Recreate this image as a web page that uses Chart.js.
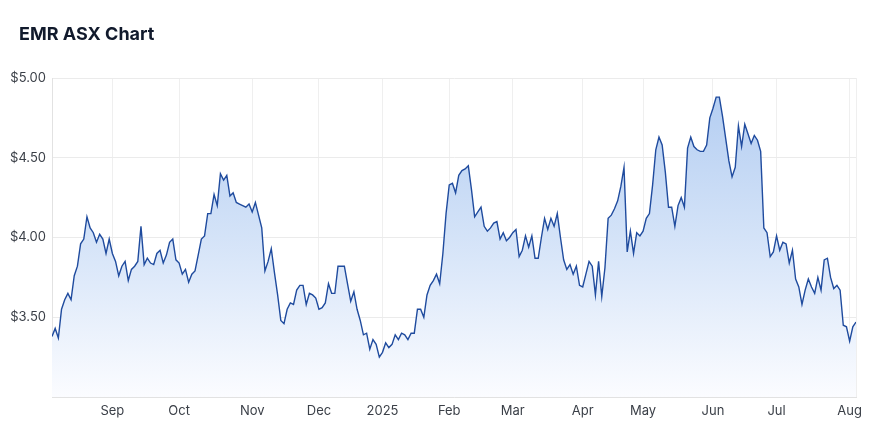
<!DOCTYPE html>
<html><head><meta charset="utf-8">
<script src="https://cdn.jsdelivr.net/npm/chart.js@4.4.1/dist/chart.umd.min.js"></script>
<style>
html,body{margin:0;padding:0;background:#fff;}
#wrap{position:relative;width:880px;height:425px;}
#title{position:absolute;left:19px;top:23px;font:700 18px Inter, sans-serif;color:#111a2c;}
canvas{position:absolute;left:0;top:0;}
</style></head><body>
<div id="wrap"><canvas id="c" width="880" height="425"></canvas><div id="title">EMR ASX Chart</div></div>
<script>
const prices = [
3.38,3.43,3.37,3.55,3.61,3.65,3.61,3.76,3.82,3.96,3.99,4.13,4.06,4.03,3.97,4.02,3.99,3.90,3.99,3.90,3.85,3.76,3.82,3.85,3.73,3.80,3.82,3.85,4.07,3.83,3.87,3.84,3.83,3.90,3.92,3.84,3.89,3.97,3.99,3.86,3.84,3.77,
3.80,3.72,3.77,3.79,3.89,3.99,4.01,4.15,4.15,4.27,4.20,4.40,4.36,4.39,4.26,4.28,4.22,4.21,4.20,4.19,4.21,4.16,4.22,4.14,4.06,3.79,3.85,3.93,3.78,3.64,3.48,3.46,3.55,3.59,3.58,3.67,3.70,3.70,3.58,3.65,3.64,3.62,3.55,
3.56,3.59,3.71,3.65,3.65,3.82,3.82,3.82,3.71,3.60,3.66,3.55,3.48,3.39,3.40,3.30,3.36,3.33,3.25,3.28,3.34,3.31,3.33,3.39,3.36,3.40,3.39,3.36,3.40,3.40,3.55,3.55,3.50,3.64,3.70,3.73,3.77,3.71,3.90,4.15,4.33,4.34,4.28,
4.39,4.42,4.43,4.45,4.30,4.13,4.16,4.19,4.07,4.04,4.06,4.09,4.10,3.99,4.03,3.98,4.00,4.03,4.05,3.88,3.92,4.01,3.94,4.01,3.87,3.87,4.00,4.12,4.05,4.12,4.07,4.15,4.00,3.86,3.80,3.83,3.77,3.82,3.70,3.69,3.77,3.85,
3.82,3.64,3.85,3.63,3.81,4.12,4.14,4.18,4.23,4.32,4.44,3.91,4.04,3.90,4.03,4.01,4.04,4.12,4.15,4.33,4.55,4.63,4.58,4.41,4.19,4.19,4.07,4.20,4.25,4.19,4.56,4.63,4.57,4.55,4.54,4.54,4.58,4.75,4.81,4.88,4.88,4.76,4.62,4.48,4.38,4.44,4.70,4.57,4.71,4.65,4.59,4.64,4.61,4.54,4.06,4.03,3.88,3.91,4.01,3.92,3.97,3.96,3.84,3.92,3.74,3.69,3.58,3.67,3.74,3.69,3.65,3.75,3.67,3.86,3.87,3.75,3.68,3.70,3.67,3.45,3.44,3.35,3.44,3.47
];
const monthTickIndex = [19,40,63,84,104,125,145,167,186,208,228,251];
const monthTickLabels = ['Sep','Oct','Nov','Dec','2025','Feb','Mar','Apr','May','Jun','Jul','Aug'];
const yTickValues = [3.0,3.5,4.0,4.5,5.0];

const points = prices.map((p,i)=>({x:i,y:p}));
const lastIdx = prices.length-1;

new Chart(document.getElementById('c'), {
  type:'line',
  data:{datasets:[{
    data:points,
    borderColor:'#1f4b9e',
    borderWidth:1.4,
    pointRadius:0,
    tension:0,
    fill:'start',
    backgroundColor:(ctx)=>{
      const ca=ctx.chart.chartArea;
      if(!ca) return 'rgba(180,205,240,0.5)';
      const g=ctx.chart.ctx.createLinearGradient(0,ca.top,0,ca.bottom);
      g.addColorStop(0,'#b0cbf1');
      g.addColorStop(0.5,'#d4e3f8');
      g.addColorStop(1,'#fbfcff');
      return g;
    }
  }]},
  options:{
    responsive:false,
    animation:false,
    layout:{padding:{left:0,top:78,right:24,bottom:0}},
    plugins:{legend:{display:false},tooltip:{enabled:false},title:{display:false}},
    scales:{
      x:{
        type:'linear',min:0,max:lastIdx,
        afterBuildTicks:(s)=>{s.ticks=monthTickIndex.concat([lastIdx]).map(v=>({value:v}));},
        afterFit:(s)=>{s.height=28;},
        ticks:{
          autoSkip:false,maxRotation:0,padding:6,color:'#3a3f47',
          font:{family:'Inter',size:13},
          callback:(v)=>{const k=monthTickIndex.indexOf(v);return k>=0?monthTickLabels[k]:'';}
        },
        grid:{color:'#efefef',drawTicks:false},
        border:{color:'#e2e2e2'}
      },
      y:{
        min:3.0,max:5.0,
        afterBuildTicks:(s)=>{s.ticks=yTickValues.map(v=>({value:v}));},
        afterFit:(s)=>{s.width=52;},
        ticks:{
          padding:6,color:'#3a3f47',
          font:{family:'Inter',size:13},
          callback:(v)=> v===3 ? '' : '$'+Number(v).toFixed(2)
        },
        grid:{color:'#ebebeb',drawTicks:false},
        border:{color:'#e2e2e2'}
      }
    }
  }
});
</script>
</body></html>
